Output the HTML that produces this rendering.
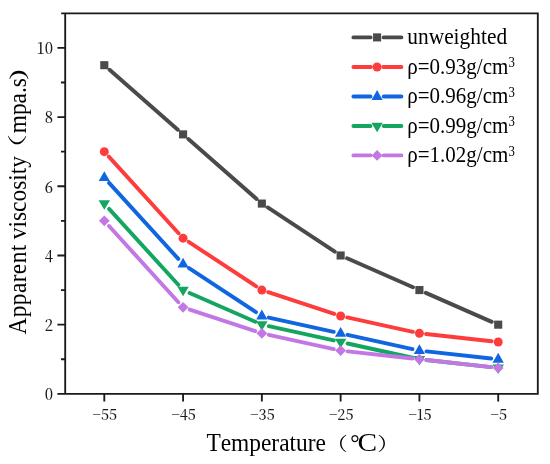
<!DOCTYPE html>
<html lang="en"><head><meta charset="utf-8"><title>Apparent viscosity vs temperature</title>
<style>
html,body{margin:0;padding:0;background:#fff}
svg{display:block}
.t{font-family:"Liberation Serif","Noto Serif CJK SC",serif;fill:#000;font-kerning:none}
.x{font-family:"Noto Serif CJK SC","Liberation Serif",serif;fill:#1a1a1a;font-kerning:none;font-weight:500}
</style></head><body>
<svg width="550" height="464" viewBox="0 0 550 464">
<rect width="550" height="464" fill="#fff"/>
<path d="M109.56,69.81L177.82,129.76M188.34,139.00L256.60,198.96M267.71,207.43L334.79,251.62M347.05,258.28L413.01,287.25M425.83,292.88L491.79,321.84" fill="none" stroke="#4a4a4a" stroke-width="3.9" stroke-linecap="round"/>
<rect x="100.25" y="61.14" width="8.1" height="8.1" fill="#4a4a4a" />
<rect x="179.03" y="130.33" width="8.1" height="8.1" fill="#4a4a4a" />
<rect x="257.81" y="199.53" width="8.1" height="8.1" fill="#4a4a4a" />
<rect x="336.59" y="251.42" width="8.1" height="8.1" fill="#4a4a4a" />
<rect x="415.37" y="286.01" width="8.1" height="8.1" fill="#4a4a4a" />
<rect x="494.15" y="320.61" width="8.1" height="8.1" fill="#4a4a4a" />
<path d="M108.81,156.64L178.57,233.22M188.68,241.86L256.26,286.38M268.22,292.16L334.28,313.91M347.18,317.45L412.88,331.87M426.08,334.04L491.54,341.23" fill="none" stroke="#fe3c3c" stroke-width="3.9" stroke-linecap="round"/>
<circle cx="104.30" cy="151.68" r="4.5" fill="#fe3c3c" />
<circle cx="183.08" cy="238.17" r="4.5" fill="#fe3c3c" />
<circle cx="261.86" cy="290.06" r="4.5" fill="#fe3c3c" />
<circle cx="340.64" cy="316.01" r="4.5" fill="#fe3c3c" />
<circle cx="419.42" cy="333.31" r="4.5" fill="#fe3c3c" />
<circle cx="498.20" cy="341.96" r="4.5" fill="#fe3c3c" />
<path d="M109.08,182.88L178.30,258.87M189.01,268.02L255.93,312.10M268.79,317.53L333.71,331.79M347.57,334.83L412.49,349.08M426.48,351.38L491.14,358.48" fill="none" stroke="#1066e0" stroke-width="3.9" stroke-linecap="round"/>
<polygon points="98.70,181.03 109.90,181.03 104.30,171.23" fill="#1066e0" />
<polygon points="177.48,267.52 188.68,267.52 183.08,257.72" fill="#1066e0" />
<polygon points="256.26,319.41 267.46,319.41 261.86,309.61" fill="#1066e0" />
<polygon points="335.04,336.71 346.24,336.71 340.64,326.91" fill="#1066e0" />
<polygon points="413.82,354.01 425.02,354.01 419.42,344.21" fill="#1066e0" />
<polygon points="492.60,362.65 503.80,362.65 498.20,352.85" fill="#1066e0" />
<path d="M109.08,208.82L178.30,284.81M189.58,292.92L255.36,321.80M268.79,326.18L333.71,340.43M347.57,343.48L412.49,357.73M426.48,360.03L491.14,367.13" fill="none" stroke="#14a660" stroke-width="3.9" stroke-linecap="round"/>
<polygon points="98.60,200.28 110.00,200.28 104.30,209.78" fill="#14a660" />
<polygon points="177.38,286.76 188.78,286.76 183.08,296.26" fill="#14a660" />
<polygon points="256.16,321.36 267.56,321.36 261.86,330.86" fill="#14a660" />
<polygon points="334.94,338.66 346.34,338.66 340.64,348.16" fill="#14a660" />
<polygon points="413.72,355.95 425.12,355.95 419.42,365.45" fill="#14a660" />
<polygon points="492.50,364.60 503.90,364.60 498.20,374.10" fill="#14a660" />
<path d="M109.01,226.05L178.37,302.19M189.73,309.55L255.21,331.12M268.70,334.81L333.80,349.10M347.60,351.37L412.46,358.49M426.38,360.02L491.24,367.14" fill="none" stroke="#c377e4" stroke-width="3.9" stroke-linecap="round"/>
<polygon points="98.90,220.87 104.30,215.47 109.70,220.87 104.30,226.27" fill="#c377e4" />
<polygon points="177.68,307.36 183.08,301.96 188.48,307.36 183.08,312.76" fill="#c377e4" />
<polygon points="256.46,333.31 261.86,327.91 267.26,333.31 261.86,338.71" fill="#c377e4" />
<polygon points="335.24,350.61 340.64,345.21 346.04,350.61 340.64,356.01" fill="#c377e4" />
<polygon points="414.02,359.25 419.42,353.85 424.82,359.25 419.42,364.65" fill="#c377e4" />
<polygon points="492.80,367.90 498.20,362.50 503.60,367.90 498.20,373.30" fill="#c377e4" />
<g stroke="#1a1a1a" stroke-width="1.85" fill="none" stroke-linecap="butt">
<path d="M61.20,13.30H537.80V393.85H57.40M65.20,13.30V393.85"/>
<path d="M65.20,359.25h-4.2M65.20,324.66h-7.8M65.20,290.06h-4.2M65.20,255.47h-7.8M65.20,220.87h-4.2M65.20,186.28h-7.8M65.20,151.68h-4.2M65.20,117.09h-7.8M65.20,82.49h-4.2M65.20,47.90h-7.8M104.30,393.85v7.6M183.08,393.85v7.6M261.86,393.85v7.6M340.64,393.85v7.6M419.42,393.85v7.6M498.20,393.85v7.6"/>
</g>
<text class="x" transform="translate(53.0,400.25) scale(1,1.08)" font-size="14.8" text-anchor="end">0</text>
<text class="x" transform="translate(53.0,331.06) scale(1,1.08)" font-size="14.8" text-anchor="end">2</text>
<text class="x" transform="translate(53.0,261.87) scale(1,1.08)" font-size="14.8" text-anchor="end">4</text>
<text class="x" transform="translate(53.0,192.68) scale(1,1.08)" font-size="14.8" text-anchor="end">6</text>
<text class="x" transform="translate(53.0,123.49) scale(1,1.08)" font-size="14.8" text-anchor="end">8</text>
<text class="x" transform="translate(53.0,54.30) scale(1,1.08)" font-size="14.8" text-anchor="end">10</text>
<text class="x" transform="translate(104.90,420.1) scale(1,1.06)" font-size="14.3" text-anchor="middle">−55</text>
<text class="x" transform="translate(183.68,420.1) scale(1,1.06)" font-size="14.3" text-anchor="middle">−45</text>
<text class="x" transform="translate(262.46,420.1) scale(1,1.06)" font-size="14.3" text-anchor="middle">−35</text>
<text class="x" transform="translate(341.24,420.1) scale(1,1.06)" font-size="14.3" text-anchor="middle">−25</text>
<text class="x" transform="translate(420.02,420.1) scale(1,1.06)" font-size="14.3" text-anchor="middle">−15</text>
<text class="x" transform="translate(498.80,420.1) scale(1,1.06)" font-size="14.3" text-anchor="middle">−5</text>
<text class="t" transform="translate(0,450.6) scale(1,1.08)" font-size="23.4"><tspan x="206.4">Temperature</tspan><tspan x="325.8" dy="-0.3" font-size="17" textLength="22" lengthAdjust="spacingAndGlyphs">（</tspan><tspan x="350.2" dy="0.3">°</tspan><tspan x="357.5" textLength="19.6" lengthAdjust="spacingAndGlyphs">C</tspan><tspan x="377.3" dy="-0.3" font-size="17" textLength="22" lengthAdjust="spacingAndGlyphs">）</tspan></text>
<text class="t" transform="translate(26.4,334.6) rotate(-90) scale(1,1.08)" font-size="23.4"><tspan x="0" letter-spacing="0.4">Apparent</tspan><tspan x="95.4">viscosity</tspan><tspan x="170.8" dy="-0.9" font-size="18" textLength="30" lengthAdjust="spacingAndGlyphs">（</tspan><tspan x="201.3" dy="0.9">mpa.s</tspan><tspan x="254.8" dy="-2.6" font-size="18.5" textLength="10.5" lengthAdjust="spacingAndGlyphs">)</tspan></text>
<path d="M353.4,37.4H370.60M383.60,37.4H401.4" stroke="#4a4a4a" stroke-width="3.9" stroke-linecap="round"/>
<rect x="373.05" y="33.35" width="8.1" height="8.1" fill="#4a4a4a" />
<text class="t" transform="translate(0,44.10) scale(1,1.08)" font-size="21.4"><tspan x="407.3">unweighted</tspan></text>
<path d="M353.4,67.0H370.90M383.30,67.0H401.4" stroke="#fe3c3c" stroke-width="3.9" stroke-linecap="round"/>
<circle cx="377.10" cy="67.00" r="4.5" fill="#fe3c3c" />
<text class="t" transform="translate(0,73.70) scale(1,1.08)" font-size="21.4"><tspan x="407.3" textLength="101" lengthAdjust="spacingAndGlyphs">ρ=0.93g/cm</tspan><tspan x="508.6" y="-5.9" font-size="12.8">3</tspan></text>
<path d="M353.4,96.5H370.50M383.70,96.5H401.4" stroke="#1066e0" stroke-width="3.9" stroke-linecap="round"/>
<polygon points="371.50,99.90 382.70,99.90 377.10,90.10" fill="#1066e0" />
<text class="t" transform="translate(0,103.20) scale(1,1.08)" font-size="21.4"><tspan x="407.3" textLength="101" lengthAdjust="spacingAndGlyphs">ρ=0.96g/cm</tspan><tspan x="508.6" y="-5.9" font-size="12.8">3</tspan></text>
<path d="M353.4,126.0H370.50M383.70,126.0H401.4" stroke="#14a660" stroke-width="3.9" stroke-linecap="round"/>
<polygon points="371.40,122.70 382.80,122.70 377.10,132.20" fill="#14a660" />
<text class="t" transform="translate(0,132.70) scale(1,1.08)" font-size="21.4"><tspan x="407.3" textLength="101" lengthAdjust="spacingAndGlyphs">ρ=0.99g/cm</tspan><tspan x="508.6" y="-5.9" font-size="12.8">3</tspan></text>
<path d="M353.4,155.4H370.60M383.60,155.4H401.4" stroke="#c377e4" stroke-width="3.9" stroke-linecap="round"/>
<polygon points="371.70,155.40 377.10,150.00 382.50,155.40 377.10,160.80" fill="#c377e4" />
<text class="t" transform="translate(0,162.10) scale(1,1.08)" font-size="21.4"><tspan x="407.3" textLength="101" lengthAdjust="spacingAndGlyphs">ρ=1.02g/cm</tspan><tspan x="508.6" y="-5.9" font-size="12.8">3</tspan></text>
</svg></body></html>
